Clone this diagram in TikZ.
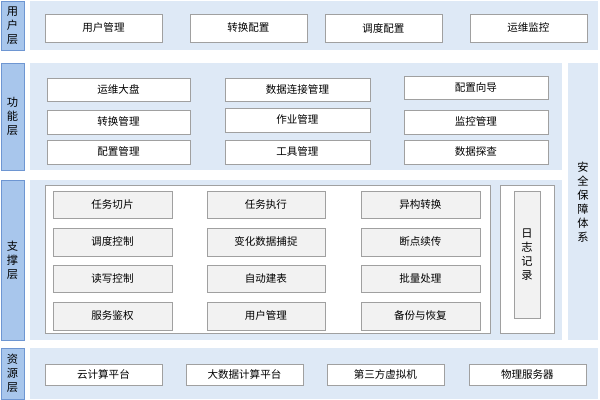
\documentclass[tikz,border=0pt]{standalone}
\usepackage{fontspec}
\setmainfont{Noto Sans CJK SC}
\usetikzlibrary{positioning}
\definecolor{lblblue}{RGB}{168,198,236}
\definecolor{lblline}{RGB}{110,150,210}
\definecolor{bandblue}{RGB}{222,233,246}
\definecolor{boxgrey}{RGB}{242,242,242}
\definecolor{lineg}{RGB}{160,160,160}
\tikzset{
  layerlbl/.style={draw=lblline, fill=lblblue, inner sep=0pt, font=\fontsize{8}{10}\selectfont, align=center},
  band/.style={fill=bandblue, draw=none},
  whitebox/.style={draw=lineg, fill=white, font=\fontsize{7.5}{9}\selectfont, inner sep=0pt},
  greybox/.style={draw=lineg, fill=boxgrey, font=\fontsize{7.5}{9}\selectfont, inner sep=0pt},
}
\newcommand{\pbox}[6]{% style, name, x1, y1, x2, y2
  \node[#1, minimum width=(#5-#3)*0.025cm, minimum height=(#6-#4)*0.025cm] (#2) at ({(#3+#5)/2*0.025},{-(#4+#6)/2*0.025})}
\begin{document}
\begin{tikzpicture}
\useasboundingbox (0,0) rectangle (15,-10);
\fill[white] (0,0) rectangle (15,-10);
% bands
\fill[band] (0.75,-0.02) rectangle (14.95,-1.25);
\fill[band] (0.75,-1.58) rectangle (14.05,-4.25);
\fill[band] (0.75,-4.5) rectangle (14.05,-8.5);
\fill[band] (14.2,-1.58) rectangle (14.95,-8.5);
\fill[band] (0.75,-8.7) rectangle (14.95,-9.97);
% layer labels
\pbox{layerlbl}{uL}{1}{1}{24}{50} {用\\户\\层};
\pbox{layerlbl}{fL}{1}{63}{24}{170} {功\\能\\层};
\pbox{layerlbl}{sL}{1}{180}{24}{340} {支\\撑\\层};
\pbox{layerlbl}{rL}{1}{348}{24}{399} {资\\源\\层};
\node[font=\fontsize{8}{10}\selectfont, align=center] (sec) at (14.575,-5.05) {安\\全\\保\\障\\体\\系};
% user layer
\pbox{whitebox}{u1}{45}{14}{162}{42} {用户管理};
\pbox{whitebox}{u2}{190}{14}{307}{42} {转换配置};
\pbox{whitebox}{u3}{325}{14}{442}{42} {调度配置};
\pbox{whitebox}{u4}{470}{14}{587}{42} {运维监控};
% function layer
\pbox{whitebox}{f1}{47}{78}{190}{101} {运维大盘};
\pbox{whitebox}{f2}{225}{78}{370}{101} {数据连接管理};
\pbox{whitebox}{f3}{404}{76}{548}{99} {配置向导};
\pbox{whitebox}{f4}{47}{110}{190}{134} {转换管理};
\pbox{whitebox}{f5}{225}{108}{370}{132} {作业管理};
\pbox{whitebox}{f6}{404}{110}{548}{134} {监控管理};
\pbox{whitebox}{f7}{47}{140}{190}{164} {配置管理};
\pbox{whitebox}{f8}{225}{140}{370}{164} {工具管理};
\pbox{whitebox}{f9}{404}{140}{548}{164} {数据探查};
% support layer
\pbox{whitebox}{sBox}{45}{185}{490}{333} {};
\pbox{whitebox}{logBox}{500}{185}{554}{333} {};
\pbox{greybox}{log}{514}{191}{540}{318} {\fontsize{8}{10}\selectfont\shortstack{日\\志\\记\\录}};
\pbox{greybox}{s1}{53}{191}{172}{218} {任务切片};
\pbox{greybox}{s2}{207}{191}{325}{218} {任务执行};
\pbox{greybox}{s3}{361}{191}{480}{218} {异构转换};
\pbox{greybox}{s4}{53}{228}{172}{256} {调度控制};
\pbox{greybox}{s5}{207}{228}{325}{256} {变化数据捕捉};
\pbox{greybox}{s6}{361}{228}{480}{256} {断点续传};
\pbox{greybox}{s7}{53}{265}{172}{292} {读写控制};
\pbox{greybox}{s8}{207}{265}{325}{292} {自动建表};
\pbox{greybox}{s9}{361}{265}{480}{292} {批量处理};
\pbox{greybox}{s10}{53}{302}{172}{330} {服务鉴权};
\pbox{greybox}{s11}{207}{302}{325}{330} {用户管理};
\pbox{greybox}{s12}{361}{302}{480}{330} {备份与恢复};
% resource layer
\pbox{whitebox}{r1}{45}{364}{162}{385} {云计算平台};
\pbox{whitebox}{r2}{186}{364}{303}{385} {大数据计算平台};
\pbox{whitebox}{r3}{327}{364}{444}{385} {第三方虚拟机};
\pbox{whitebox}{r4}{469}{364}{586}{385} {物理服务器};
\end{tikzpicture}
\end{document}
